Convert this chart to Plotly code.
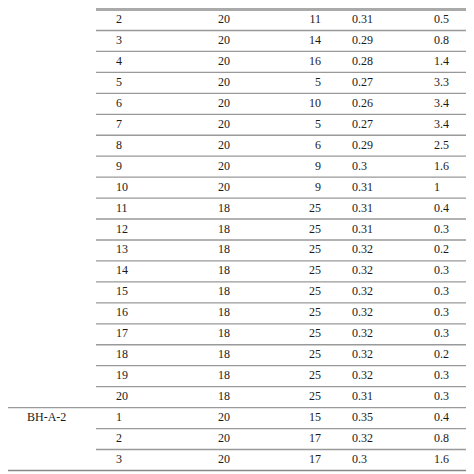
import plotly.graph_objects as go

# table rows (continued table, first header cut off)
groups = [""] * 19 + ["BH-A-2", "", ""]
nos = [2, 3, 4, 5, 6, 7, 8, 9, 10, 11, 12, 13, 14, 15, 16, 17, 18, 19, 20, 1, 2, 3]
col2 = [20, 20, 20, 20, 20, 20, 20, 20, 20, 18, 18, 18, 18, 18, 18, 18, 18, 18, 18, 20, 20, 20]
col3 = [11, 14, 16, 5, 10, 5, 6, 9, 9, 25, 25, 25, 25, 25, 25, 25, 25, 25, 25, 15, 17, 17]
col4 = ["0.31", "0.29", "0.28", "0.27", "0.26", "0.27", "0.29", "0.3", "0.31", "0.31", "0.31", "0.32",
        "0.32", "0.32", "0.32", "0.32", "0.32", "0.32", "0.31", "0.35", "0.32", "0.3"]
col5 = ["0.5", "0.8", "1.4", "3.3", "3.4", "3.4", "2.5", "1.6", "1", "0.4", "0.3", "0.2",
        "0.3", "0.3", "0.3", "0.3", "0.2", "0.3", "0.3", "0.4", "0.8", "1.6"]

y0, pitch = 12, 20.95
ys = [y0 + i * pitch for i in range(len(nos))]
font = dict(family="Liberation Serif", size=12, color="#1a1a1a")

fig = go.Figure()
fig.add_trace(go.Scatter(x=[19] * len(ys), y=ys, text=groups, mode="text", textposition="middle right", textfont=font))
fig.add_trace(go.Scatter(x=[108] * len(ys), y=ys, text=[str(v) for v in nos], mode="text", textposition="middle right", textfont=font))
fig.add_trace(go.Scatter(x=[216] * len(ys), y=ys, text=[str(v) for v in col2], mode="text", textposition="middle center", textfont=font))
fig.add_trace(go.Scatter(x=[313] * len(ys), y=ys, text=[str(v) for v in col3], mode="text", textposition="middle left", textfont=font))
fig.add_trace(go.Scatter(x=[344] * len(ys), y=ys, text=col4, mode="text", textposition="middle right", textfont=font))
fig.add_trace(go.Scatter(x=[426] * len(ys), y=ys, text=col5, mode="text", textposition="middle right", textfont=font))

# header bottom rule
fig.add_shape(type="rect", x0=88, x1=474, y0=0, y1=3, fillcolor="#aaaaaa", line_width=0)
# row separators
for i in range(len(ys) - 1):
    yl = ys[i] + pitch / 2
    start = 0 if groups[i + 1] else 88
    fig.add_shape(type="line", x0=start, x1=474, y0=yl, y1=yl, line=dict(color="#999999", width=1.3))
yb = ys[-1] + pitch / 2
fig.add_shape(type="line", x0=0, x1=474, y0=yb, y1=yb, line=dict(color="#888888", width=1.5))

fig.update_layout(width=474, height=474, margin=dict(l=0, r=0, t=0, b=0), showlegend=False,
                  plot_bgcolor="white", paper_bgcolor="white",
                  xaxis=dict(range=[0, 474], visible=False, fixedrange=True),
                  yaxis=dict(range=[474, 0], visible=False, fixedrange=True))
fig.write_html("out.html")
